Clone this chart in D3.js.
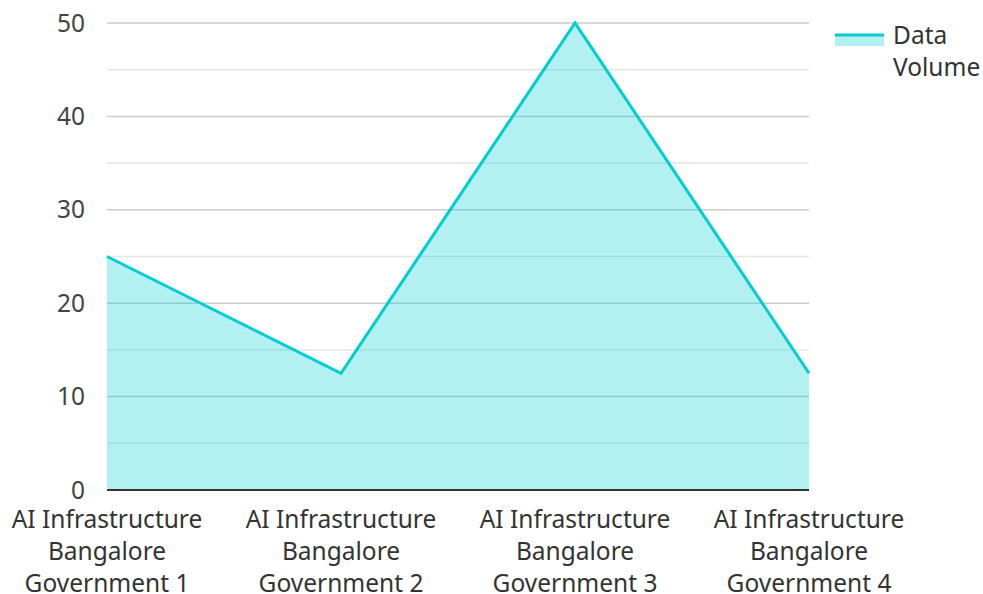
<!DOCTYPE html>
<html>
<head>
<meta charset="utf-8">
<script src="https://cdn.jsdelivr.net/npm/d3@7"></script>
<style>
  body { margin: 0; background: #fff; }
  text { font-family: "Noto Sans", sans-serif; fill: #333; }
</style>
</head>
<body>
<div id="chart"></div>
<script>
const categories = [
  ['AI Infrastructure', 'Bangalore', 'Government 1'],
  ['AI Infrastructure', 'Bangalore', 'Government 2'],
  ['AI Infrastructure', 'Bangalore', 'Government 3'],
  ['AI Infrastructure', 'Bangalore', 'Government 4']
]
const values = [25, 12.5, 50, 12.5]
const majorTicks = [0, 10, 20, 30, 40, 50]
const minorTicks = [5, 15, 25, 35, 45]
const seriesName = ['Data', 'Volume']

const chartWidth = 983
const chartHeight = 594
const margin = { top: 23, right: 174, bottom: 104, left: 107 }
const width = chartWidth - margin.left - margin.right
const height = chartHeight - margin.top - margin.bottom
const color = '#00ced1'
const fontSize = '24.5px'

const svg = d3.select('#chart')
  .append('svg')
    .attr('width', chartWidth)
    .attr('height', chartHeight)
  .append('g')
    .attr('transform', `translate(${margin.left}, ${margin.top})`)

const x = d3.scalePoint()
  .domain(d3.range(values.length))
  .range([0, width])

const y = d3.scaleLinear()
  .domain([0, 50])
  .range([height, 0])

// grid
svg.selectAll('.minor')
  .data(minorTicks)
  .enter()
  .append('line')
    .attr('x1', 0)
    .attr('x2', width)
    .attr('y1', d => y(d))
    .attr('y2', d => y(d))
    .attr('stroke', '#e6e6e6')
    .attr('stroke-width', 1.5)

svg.selectAll('.major')
  .data(majorTicks.filter(d => d > 0))
  .enter()
  .append('line')
    .attr('x1', 0)
    .attr('x2', width)
    .attr('y1', d => y(d))
    .attr('y2', d => y(d))
    .attr('stroke', '#cccccc')
    .attr('stroke-width', 1.5)

// area + line
const area = d3.area()
  .x((d, i) => x(i))
  .y0(y(0))
  .y1(d => y(d))

const line = d3.line()
  .x((d, i) => x(i))
  .y(d => y(d))

svg.append('path')
  .attr('d', area(values))
  .attr('fill', color)
  .attr('fill-opacity', 0.3)

svg.append('path')
  .attr('d', line(values))
  .attr('fill', 'none')
  .attr('stroke', color)
  .attr('stroke-width', 3)

// axes
svg.append('line')
  .attr('x1', 0)
  .attr('x2', width)
  .attr('y1', height)
  .attr('y2', height)
  .attr('stroke', '#333')
  .attr('stroke-width', 2)

svg.selectAll('.ytick')
  .data(majorTicks)
  .enter()
  .append('text')
    .attr('x', -22)
    .attr('y', d => y(d))
    .attr('dy', '0.35em')
    .attr('text-anchor', 'end')
    .style('font-size', fontSize)
    .style('fill', '#444')
    .text(d => d)

const xLabels = svg.selectAll('.xlabel')
  .data(categories)
  .enter()
  .append('text')
    .attr('text-anchor', 'middle')
    .attr('transform', (d, i) => `translate(${x(i)}, ${height + 38})`)
    .style('font-size', fontSize)

xLabels.selectAll('tspan')
  .data(d => d)
  .enter()
  .append('tspan')
    .attr('x', 0)
    .attr('y', (d, i) => i * 32)
    .text(d => d)

// legend
const legend = svg.append('g')
  .attr('transform', `translate(${width + 26}, 0)`)

legend.append('rect')
  .attr('x', 0)
  .attr('y', 11)
  .attr('width', 49)
  .attr('height', 12)
  .attr('fill', color)
  .attr('fill-opacity', 0.3)

legend.append('line')
  .attr('x1', 0)
  .attr('x2', 49)
  .attr('y1', 12)
  .attr('y2', 12)
  .attr('stroke', color)
  .attr('stroke-width', 3)

legend.append('text')
  .style('font-size', fontSize)
  .selectAll('tspan')
  .data(seriesName)
  .enter()
  .append('tspan')
    .attr('x', 58)
    .attr('y', (d, i) => 21 + i * 32)
    .text(d => d)
</script>
</body>
</html>
